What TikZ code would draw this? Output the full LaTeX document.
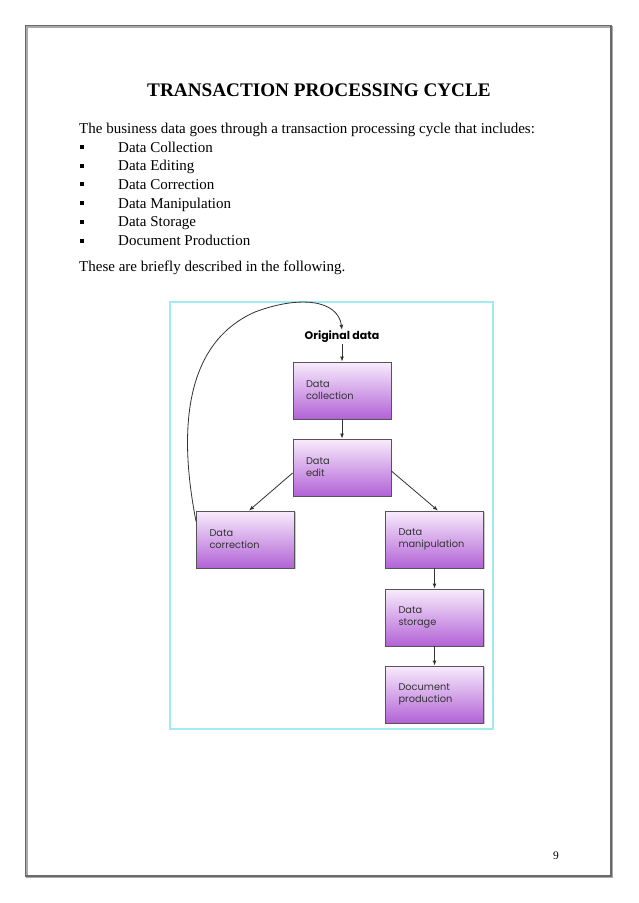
\documentclass[tikz,border=0pt]{standalone}
\usepackage{fontspec}
\setmainfont{Liberation Serif}
\newfontfamily\boxfont{Poppins}
\usetikzlibrary{arrows.meta,calc,shadows}
\definecolor{frameDark}{RGB}{105,105,105}
\definecolor{frameLight}{RGB}{170,170,170}
\definecolor{cyanFrame}{RGB}{160,236,240}
\definecolor{boxTop}{RGB}{248,236,252}
\definecolor{boxBot}{RGB}{178,98,214}
\definecolor{boxLine}{RGB}{85,85,85}
\definecolor{arrowCol}{RGB}{50,50,50}
\begin{document}
\begin{tikzpicture}[x=1pt,y=-1pt,
  bodytext/.style={anchor=base west, inner sep=0pt, font=\fontsize{15}{18}\selectfont},
  bulletsq/.style={fill=black, minimum size=4pt, inner sep=0pt},
  pbox/.style={draw=boxLine, line width=0.8pt, top color=boxTop, bottom color=boxBot,
    minimum width=98pt, minimum height=57pt, text width=72pt, inner xsep=13pt,
    align=left, font=\boxfont\fontsize{9.8}{12}\selectfont, text=black!80,
    drop shadow={shadow xshift=1.2pt, shadow yshift=-1.2pt, fill=black!35, opacity=0.6}},
  flow/.style={draw=arrowCol, line width=0.8pt, -{Latex[length=5pt,width=3.8pt]}}
]
\useasboundingbox (0,0) rectangle (638,903);
\fill[white] (0,0) rectangle (638,903);
% page frame
\draw[frameLight, line width=1.2pt] (27,27) rectangle (612.5,877.5);
\draw[frameDark, line width=1.2pt] (25.5,25.5) rectangle (611,876);

% title and text
\node[anchor=base, inner sep=0pt, font=\bfseries\fontsize{19.2}{22}\selectfont] (title) at (319,96) {TRANSACTION PROCESSING CYCLE};
\node[bodytext] (intro) at (79,133) {The business data goes through a transaction processing cycle that includes:};
\foreach \t [count=\i] in {Data Collection, Data Editing, Data Correction, Data Manipulation, Data Storage, Document Production}{
  \node[bodytext] (item\i) at (118,{152+18.7*(\i-1)}) {\t};
  \node[bulletsq] (bul\i) at (82,{147+18.7*(\i-1)}) {};
}
\node[bodytext] (outro) at (79,271) {These are briefly described in the following.};

% diagram frame
\draw[cyanFrame, line width=2pt] (170,302) rectangle (493,729);

% nodes
\node[inner sep=1pt, font=\boxfont\bfseries\fontsize{11}{12}\selectfont] (orig) at (342,337) {Original data};
\node[pbox] (collect) at (342,390.5) {Data\\collection};
\node[pbox] (edit) at (342,467.5) {Data\\edit};
\node[pbox] (corr) at (245.5,539.5) {Data\\correction};
\node[pbox] (manip) at (434.5,539.5) {Data\\manipulation};
\node[pbox] (store) at (434.5,617.5) {Data\\storage};
\node[pbox] (doc) at (434.5,694.5) {Document\\production};

% connectors
\draw[flow] (orig.south) -- (collect.north);
\draw[flow] (collect.south) -- (edit.north);
\draw[flow] ($(edit.west)+(0,5.5)$) -- ($(corr.north)+(3.5,0)$);
\draw[flow] ($(edit.east)+(0,3.5)$) -- ($(manip.north)+(3.5,0)$);
\draw[flow] (manip.south) -- (store.north);
\draw[flow] (store.south) -- (doc.north);
\draw[flow] ($(corr.north west)+(0,11)$) .. controls (180,440) and (180,345) .. (255,312)
   .. controls (300,295) and (338,300) .. (orig.north);

% page number
\node[anchor=base, inner sep=0pt, font=\fontsize{11.5}{13}\selectfont] (pnum) at (556,859) {9};
\end{tikzpicture}
\end{document}
